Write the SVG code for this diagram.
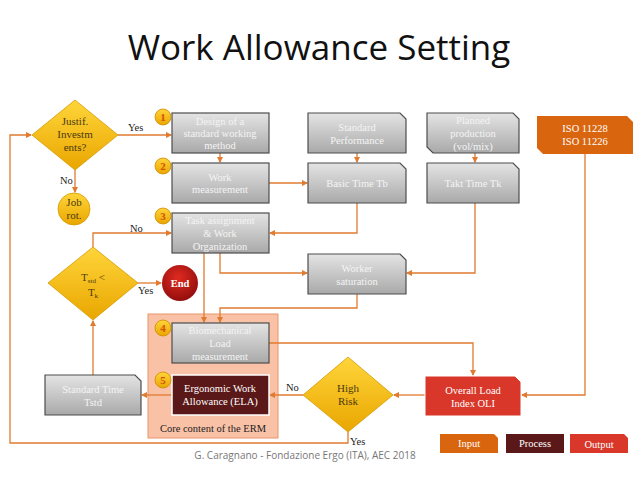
<svg xmlns="http://www.w3.org/2000/svg" width="638" height="478" viewBox="0 0 638 478">
<defs>
<linearGradient id="gg" x1="0" y1="0" x2="0" y2="1"><stop offset="0" stop-color="#e4e4e4"/><stop offset="1" stop-color="#a9a9a9"/></linearGradient>
<linearGradient id="yg" x1="0" y1="0" x2="0" y2="1"><stop offset="0" stop-color="#ffd53a"/><stop offset="1" stop-color="#e9a600"/></linearGradient>
<radialGradient id="rg" cx="0.45" cy="0.35" r="0.7"><stop offset="0" stop-color="#e02a20"/><stop offset="1" stop-color="#8e0c0c"/></radialGradient>
<marker id="ar" viewBox="0 0 6 6" refX="5" refY="3" markerWidth="5" markerHeight="5" orient="auto"><path d="M0,0 L6,3 L0,6 z" fill="#e07b30"/></marker>
<style>
.g{fill:url(#gg);stroke:#4d4d4d;stroke-width:1.2}
.gt{font-family:"Liberation Serif",serif;font-size:10.5px;fill:#f4f4f4;text-anchor:middle}
.d{fill:url(#yg);stroke:#d49a00;stroke-width:0.8}
.dt{font-family:"Liberation Serif",serif;font-size:11px;fill:#4a3a10;text-anchor:middle}
.c line,.c polyline{fill:none;stroke:#e07b30;stroke-width:1.3;marker-end:url(#ar)}
.lb{font-family:"Liberation Serif",serif;font-size:10.5px;fill:#222}
.bd{fill:url(#yg);stroke:#d08a00;stroke-width:0.8}
.bt{font-family:"Liberation Serif",serif;font-size:11px;fill:#d4500a;text-anchor:middle;font-weight:bold}
.wt{font-family:"Liberation Serif",serif;font-size:10.5px;fill:#fff;text-anchor:middle}
</style>
</defs>
<rect width="638" height="478" fill="#fff"/>
<text x="319" y="60" font-family="'Open Sans',sans-serif" font-size="35" text-anchor="middle" fill="#111">Work Allowance Setting</text>

<g id="core"><rect x="148" y="314" width="130" height="124" fill="#f9c1a6" stroke="#e8956a" stroke-width="1"/>
<text x="213" y="432" class="lb" text-anchor="middle" font-size="10.5">Core content of the ERM</text></g>

<g class="c" id="connectors">
<line x1="118" y1="135" x2="171" y2="135"/>
<line x1="75" y1="170" x2="75" y2="192"/>
<line x1="220" y1="153" x2="220" y2="162"/>
<line x1="269" y1="183" x2="307" y2="183"/>
<line x1="357" y1="153" x2="357" y2="162"/>
<line x1="475" y1="153" x2="475" y2="162"/>
<polyline points="357,203 357,233 270,233"/>
<polyline points="93,247 93,233 171,233"/>
<polyline points="220,253 220,273 307,273"/>
<polyline points="475,203 475,273 407,273"/>
<line x1="204" y1="253" x2="204" y2="322"/>
<polyline points="357,294 357,308 220,308 220,322"/>
<polyline points="269,343 473,343 473,375"/>
<polyline points="585,154 585,395 522,395"/>
<line x1="425" y1="395" x2="394" y2="395"/>
<line x1="303" y1="395" x2="270" y2="395"/>
<line x1="172" y1="395" x2="142" y2="395"/>
<line x1="93" y1="375" x2="93" y2="321"/>
<line x1="138" y1="283" x2="161" y2="283"/>
<polyline points="348,432 348,443 10,443 10,135 31,135"/>
</g>
<g id="labels">
<text x="128" y="131" class="lb">Yes</text>
<text x="60" y="184" class="lb">No</text>
<text x="130" y="232" class="lb">No</text>
<text x="138" y="294" class="lb">Yes</text>
<text x="286" y="391" class="lb">No</text>
<text x="350" y="445" class="lb">Yes</text>
</g>

<g id="justif"><polygon points="75,100 118,135 75,170 32,135" class="d"/>
<text class="dt" x="75" y="125">Justif.</text><text class="dt" x="75" y="138">Investm</text><text class="dt" x="75" y="151">ents?</text></g>
<g id="jobrot"><circle cx="74" cy="209" r="16" class="d"/><text class="dt" x="74" y="206">Job</text><text class="dt" x="74" y="219">rot.</text></g>

<g id="n1"><rect x="172" y="113" width="97" height="40" class="g"/>
<text class="gt" x="220" y="125">Design of a</text><text class="gt" x="220" y="137">standard working</text><text class="gt" x="220" y="149">method</text>
<circle cx="163" cy="117" r="8" class="bd"/><text class="bt" x="163" y="121">1</text></g>
<g id="n2"><rect x="172" y="163" width="97" height="40" class="g"/>
<text class="gt" x="220" y="181">Work</text><text class="gt" x="220" y="193">measurement</text>
<circle cx="163" cy="166" r="8" class="bd"/><text class="bt" x="163" y="170">2</text></g>
<g id="n3"><rect x="172" y="213" width="97" height="40" class="g"/>
<text class="gt" x="220" y="224">Task assignment</text><text class="gt" x="220" y="237">&amp; Work</text><text class="gt" x="220" y="250">Organization</text>
<circle cx="163" cy="216" r="8" class="bd"/><text class="bt" x="163" y="220">3</text></g>

<g id="tstdtk"><polygon points="93,247 138,283 93,320 48,283" class="d"/>
<text class="dt" x="93" y="281">T<tspan font-size="7" dy="2">std</tspan><tspan dy="-2"> &lt;</tspan></text><text class="dt" x="93" y="296">T<tspan font-size="7" dy="2">k</tspan></text></g>
<g id="end"><circle cx="180" cy="283" r="18" fill="url(#rg)"/><text x="180" y="287" class="wt" font-weight="bold" font-size="11">End</text></g>

<g id="stdperf"><path d="M308,113 H400 L406,119 V153 H308 Z" class="g"/>
<text class="gt" x="357" y="131">Standard</text><text class="gt" x="357" y="144">Performance</text></g>
<g id="basic"><path d="M308,163 H400 L406,169 V203 H308 Z" class="g"/>
<text class="gt" x="357" y="187">Basic Time Tb</text></g>
<g id="planned"><path d="M427,113 H513 L519,119 V153 H433 L427,147 Z" class="g"/>
<text class="gt" x="473" y="124">Planned</text><text class="gt" x="473" y="137">production</text><text class="gt" x="473" y="150">(vol/mix)</text></g>
<g id="takt"><path d="M427,163 H513 L519,169 V203 H427 Z" class="g"/>
<text class="gt" x="473" y="187">Takt Time Tk</text></g>
<g id="iso"><path d="M537,116 H627 L633,122 V154 H543 L537,148 Z" fill="#d9650e"/>
<text class="wt" x="585" y="132">ISO 11228</text><text class="wt" x="585" y="145">ISO 11226</text></g>
<g id="worker"><path d="M308,254 H400 L406,260 V294 H308 Z" class="g"/>
<text class="gt" x="357" y="272">Worker</text><text class="gt" x="357" y="285">saturation</text></g>

<g id="n4"><rect x="172" y="323" width="97" height="40" class="g"/>
<text class="gt" x="220" y="334">Biomechanical</text><text class="gt" x="220" y="347">Load</text><text class="gt" x="220" y="360">measurement</text>
<circle cx="163" cy="328" r="8" class="bd"/><text class="bt" x="163" y="332">4</text></g>
<g id="n5"><rect x="172" y="375" width="97" height="40" fill="#5a1818" stroke="#fff" stroke-width="1.5"/>
<text class="wt" x="220" y="392" font-size="11">Ergonomic Work</text><text class="wt" x="220" y="405" font-size="11">Allowance (ELA)</text>
<circle cx="163" cy="380" r="8" class="bd"/><text class="bt" x="163" y="384">5</text></g>
<g id="stdtime"><path d="M45,375 H135 L141,381 V415 H45 Z" class="g"/>
<text class="gt" x="93" y="393">Standard Time</text><text class="gt" x="93" y="406">Tstd</text></g>
<g id="highrisk"><polygon points="348,357 393,395 348,432 303,395" class="d"/>
<text class="dt" x="348" y="392">High</text><text class="dt" x="348" y="405">Risk</text></g>
<g id="oli"><path d="M425,376 H515 L521,382 V416 H425 Z" fill="#d8372a" stroke="#fff" stroke-width="1"/>
<text class="wt" x="473" y="394" font-size="11">Overall Load</text><text class="wt" x="473" y="407" font-size="11">Index OLI</text></g>

<g id="legend">
<path d="M440,434 H494 L498,438 V453 H440 Z" fill="#d9650e"/><text class="wt" x="469" y="447" font-size="11">Input</text>
<rect x="506" y="434" width="58" height="19" fill="#5a1818"/><text class="wt" x="535" y="447" font-size="11">Process</text>
<path d="M570,434 H624 L628,438 V453 H570 Z" fill="#d8372a"/><text class="wt" x="599" y="448" font-size="11">Output</text>
</g>
<text x="305" y="459" font-family="'Open Sans',sans-serif" font-size="10" fill="#777" text-anchor="middle">G. Caragnano - Fondazione Ergo (ITA), AEC 2018</text>
</svg>
